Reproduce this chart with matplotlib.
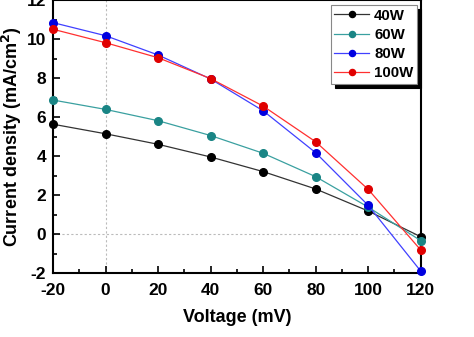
import matplotlib
matplotlib.use("Agg")
import matplotlib.pyplot as plt
from matplotlib.ticker import MultipleLocator

voltage = [-20, 0, 20, 40, 60, 80, 100, 120]
j_40W = [5.63, 5.14, 4.60, 3.95, 3.20, 2.31, 1.18, -0.14]
j_60W = [6.87, 6.39, 5.81, 5.05, 4.14, 2.94, 1.38, -0.34]
j_80W = [10.84, 10.17, 9.18, 7.95, 6.32, 4.17, 1.47, -1.90]
j_100W = [10.50, 9.81, 9.04, 7.97, 6.56, 4.73, 2.29, -0.82]
labels = ["40W", "60W", "80W", "100W"]
xticks = [-20, 0, 20, 40, 60, 80, 100, 120]
yticks = [-2, 0, 2, 4, 6, 8, 10, 12]

plt.rcParams['font.family'] = ['Liberation Sans', 'DejaVu Sans']
plt.rcParams['font.weight'] = 'bold'
plt.rcParams['axes.unicode_minus'] = False

fig = plt.figure(figsize=(4.74, 3.37), dpi=100)
ax = fig.add_axes([53/474, 64/337, (420.7-53)/474, 273/337])

line_colors = ["#333333", "#3aa0a0", "#4040ff", "#ff3030"]
marker_colors = ["#000000", "#1a8585", "#0000e0", "#e00000"]
series = [j_40W, j_60W, j_80W, j_100W]

ax.axhline(0, color="#bbbbbb", lw=0.8, ls=(0, (2, 2)), zorder=0)
ax.axvline(0, color="#bbbbbb", lw=0.8, ls=(0, (2, 2)), zorder=0)

for ys, lab, lc, mc in zip(series, labels, line_colors, marker_colors):
    ax.plot(voltage, ys, color=lc, lw=0.9, marker='o', ms=5.5,
            markerfacecolor=mc, markeredgecolor=mc, label=lab, clip_on=False, zorder=3)

ax.set_xlim(-20, 120)
ax.set_ylim(-2, 12)
ax.set_xticks(xticks)
ax.set_yticks(yticks)
ax.xaxis.set_minor_locator(MultipleLocator(10))
ax.yaxis.set_minor_locator(MultipleLocator(1))
ax.tick_params(which='both', direction='in', top=False, right=False, width=1.2)
ax.tick_params(which='major', length=5, labelsize=12.5)
ax.tick_params(axis='x', which='major', pad=7)
ax.tick_params(axis='y', which='major', pad=5)
ax.tick_params(which='minor', length=3)
for lbl in ax.get_xticklabels() + ax.get_yticklabels():
    lbl.set_fontweight('bold')
for s in ax.spines.values():
    s.set_linewidth(1.5)

ax.set_xlabel("Voltage (mV)", fontsize=13, fontweight='bold', labelpad=8)
ax.set_ylabel("Current density (mA/cm$^\\mathbf{2}$)", fontsize=13, fontweight='bold', labelpad=2)

leg = ax.legend(loc='upper right', bbox_to_anchor=(0.99, 0.982), borderaxespad=0,
                fontsize=10.8, markerscale=0.8,
                frameon=True, fancybox=False, borderpad=0.25, labelspacing=0.35,
                handlelength=2.3, handletextpad=0.35,
                shadow={'color': 'black', 'alpha': 1.0, 'ox': 3, 'oy': -3})
leg.get_frame().set_edgecolor('#888888')
leg.get_frame().set_linewidth(0.8)
for t in leg.get_texts():
    t.set_fontweight('bold')

fig.savefig("out.png", dpi=100)
